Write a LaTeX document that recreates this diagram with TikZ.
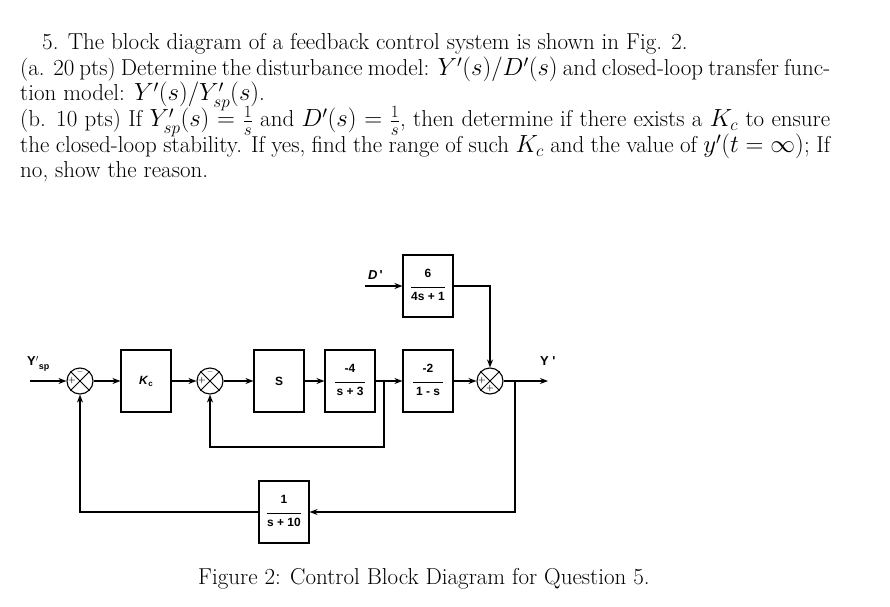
\documentclass[tikz,border=0pt]{standalone}
\usepackage{fontspec}
\newfontfamily\dg{Liberation Sans}
\usetikzlibrary{arrows.meta}
\begin{document}
\begin{tikzpicture}[x=1bp,y=-1bp,
  blk/.style={draw,line width=1.1pt,minimum width=50bp,minimum height=62bp,inner sep=0pt,font=\dg\bfseries\fontsize{12}{13}\selectfont},
  sm/.style={draw,circle,line width=1.1pt,minimum size=26bp,inner sep=0pt},
  ln/.style={line width=1.3pt},
  ar/.style={ln,-{Stealth[length=8bp,width=6bp]}},
  tx/.style={anchor=base west,inner sep=0pt,font=\fontsize{23.1}{25}\selectfont},
  lb/.style={font=\dg\bfseries\fontsize{13}{14}\selectfont,inner sep=0pt}]
\useasboundingbox (0,0) rectangle (890,607);
\fill[white] (0,0) rectangle (890,607);
% text
\node[tx] (t1) at (42,50) {5. The block diagram of a feedback control system is shown in Fig. 2.};
\node[tx] (t2) at (20,76) {\makebox[810bp][s]{(a. 20 pts) Determine the disturbance model: $Y'(s)/D'(s)$ and closed-loop transfer func-}};
\node[tx] (t3) at (20,101) {tion model: $Y'(s)/Y'_{sp}(s)$.};
\node[tx] (t4) at (20,127) {\makebox[810bp][s]{(b. 10 pts) If $Y'_{sp}(s)=\frac{1}{s}$ and $D'(s)=\frac{1}{s}$, then determine if there exists a $K_c$ to ensure}};
\node[tx] (t5) at (20,153) {\makebox[810bp][s]{the closed-loop stability. If yes, find the range of such $K_c$ and the value of $y'(t=\infty)$; If}};
\node[tx] (t6) at (20,178) {no, show the reason.};
\node[tx] (cap) at (198,584) {Figure 2: Control Block Diagram for Question 5.};
% diagram
\foreach \n/\x/\y in {s1/80/381,s2/210/381,s3/490/381}{
  \node[sm] (\n) at (\x,\y) {};
  \draw[line width=1pt] (\n.north east)--(\n.south west) (\n.north west)--(\n.south east);
}
\foreach \n in {s1,s2,s3}{
  \node[font=\bfseries\fontsize{8}{8}\selectfont,inner sep=0pt] at ([xshift=-8bp]\n.center) {+};
}
\node[font=\bfseries\fontsize{8}{8}\selectfont,inner sep=0pt] at ([yshift=8bp]s1.center) {\textendash};
\node[font=\bfseries\fontsize{8}{8}\selectfont,inner sep=0pt] at ([yshift=8bp]s2.center) {\textendash};
\node[font=\bfseries\fontsize{8}{8}\selectfont,inner sep=0pt] at ([yshift=-8bp]s3.center) {+};
\node[blk] (kc) at (146,381) {\textit{K}\raisebox{-2bp}{\fontsize{8}{8}\selectfont c}};
\node[blk] (s) at (279,381) {S};
\node[blk] (g1) at (350,381) {\begin{tabular}{@{}c@{}}-4\\[-2bp]\rule{30bp}{1pt}\\[-1bp]s + 3\end{tabular}};
\node[blk] (g2) at (428,381) {\begin{tabular}{@{}c@{}}-2\\[-2bp]\rule{30bp}{1pt}\\[-1bp]1 - s\end{tabular}};
\node[blk] (gd) at (428,286) {\begin{tabular}{@{}c@{}}6\\[-2bp]\rule{34bp}{1pt}\\[-1bp]4s + 1\end{tabular}};
\node[blk] (h) at (284,512) {\begin{tabular}{@{}c@{}}1\\[-2bp]\rule{34bp}{1pt}\\[-1bp]s + 10\end{tabular}};
\coordinate (in) at (30,381);
\coordinate (out) at (548,381);
\coordinate (dd) at (365,286);
\coordinate (br1) at (384,381);
\coordinate (br2) at (515,381);
\node[lb,anchor=south west] (ysp) at (27,372) {Y$'$\raisebox{-4bp}{\fontsize{9}{9}\selectfont sp}};
\node[lb,anchor=south west] at (540,366) {Y '};
\node[lb,anchor=south west] at (368,280) {\textit{D}\,'};
\draw[ar] (in)--(s1);
\draw[ar] (s1)--(kc);
\draw[ar] (kc)--(s2);
\draw[ar] (s2)--(s);
\draw[ar] (s)--(g1);
\draw[ar] (g1)--(g2);
\draw[ar] (g2)--(s3);
\draw[ar] (s3)--(out);
\draw[ar] (dd)--(gd);
\draw[ar] (gd.east)-|(s3.north);
\draw[ar] (br1)--(384,447)-|(s2.south);
\draw[ar] (br2)|-(h.east);
\draw[ar] (h.west)-|(s1.south);
\end{tikzpicture}
\end{document}
